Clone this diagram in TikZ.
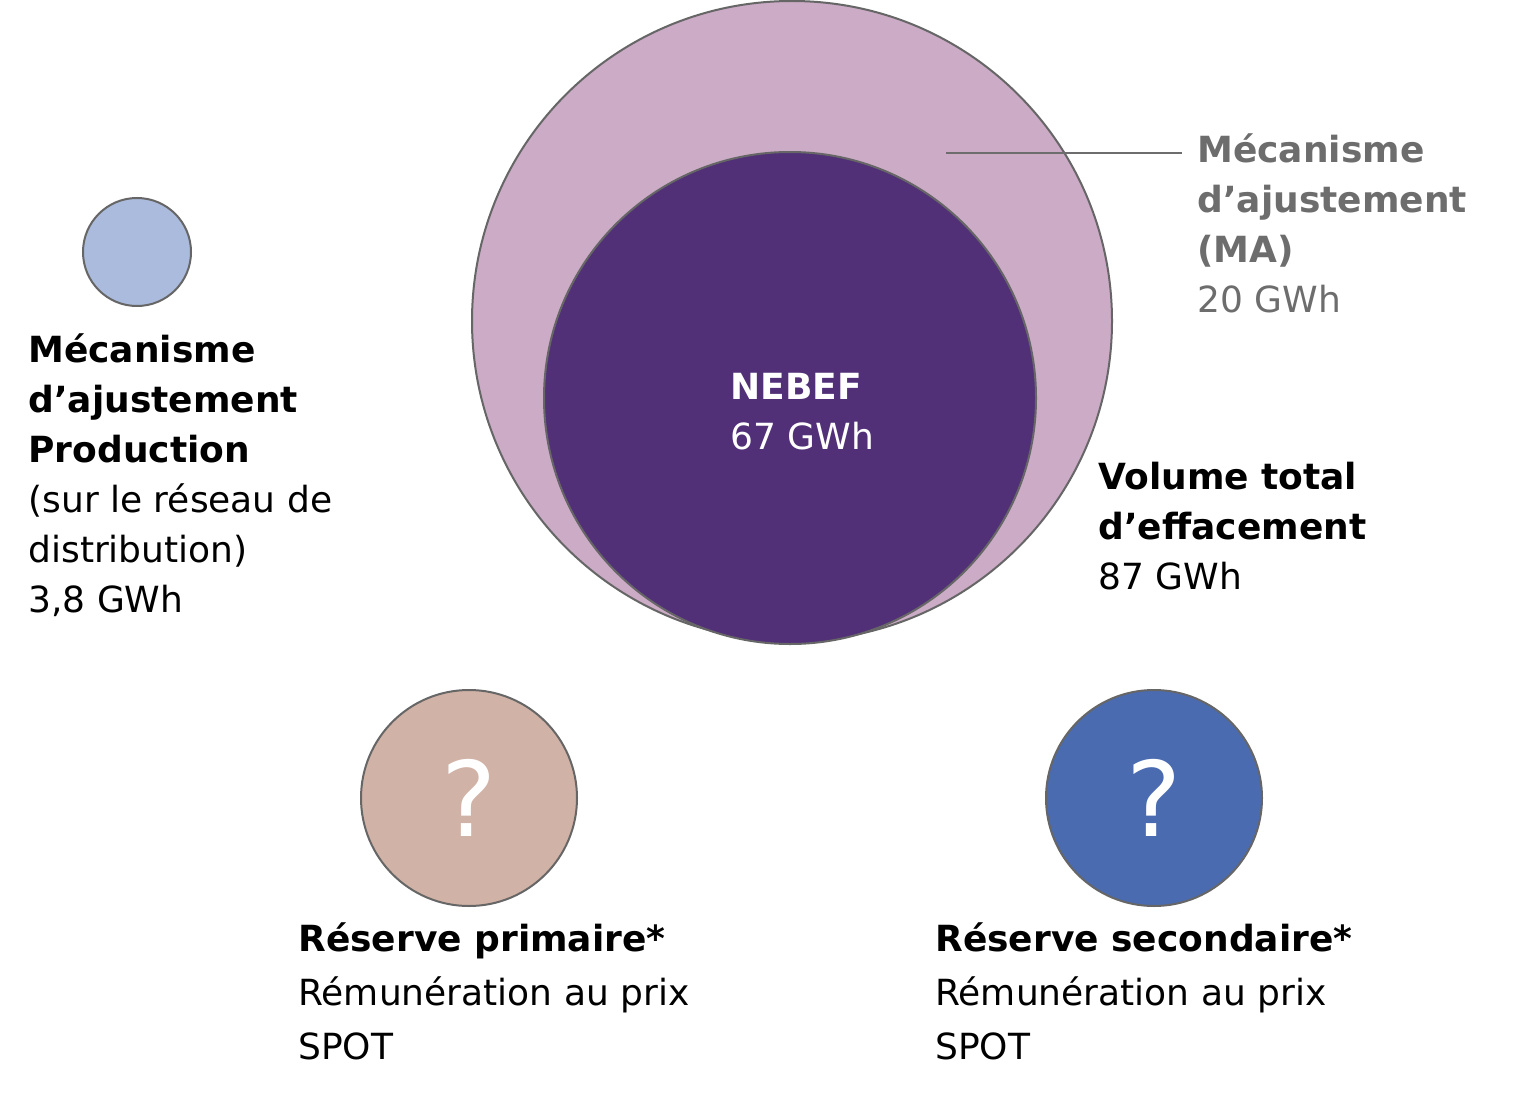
\documentclass[tikz,border=0pt]{standalone}
\usepackage{fontspec}
\setmainfont{DejaVu Sans}
\begin{document}
\begin{tikzpicture}[x=0.5pt,y=-0.5pt,
  circ/.style={draw=black!60,line width=1pt},
  lab/.style={anchor=north west,inner sep=0pt,align=left,font=\fontsize{18}{25}\selectfont},
  lab2/.style={anchor=north west,inner sep=0pt,align=left,font=\fontsize{18}{27}\selectfont}]
\definecolor{lpur}{HTML}{CBABC6}
\definecolor{dpur}{HTML}{513078}
\definecolor{lblue}{HTML}{ABBBDD}
\definecolor{tan}{HTML}{D1B2A6}
\definecolor{dblue}{HTML}{4A6BB0}
\definecolor{gtxt}{HTML}{6D6D6D}
\useasboundingbox (0,0) rectangle (1536,1102);
\fill[white] (0,0) rectangle (1536,1102);
\draw[circ,fill=lpur] (792,321) circle (320);
\draw[circ,fill=dpur] (790,398) circle (246);
\draw[circ,fill=lblue] (137,252) circle (54);
\node[circ,circle,fill=tan,minimum size=216pt/2,inner sep=0pt,text=white,font=\fontsize{52}{52}\selectfont] (tan) at (469,798) {?};
\node[circ,circle,fill=dblue,minimum size=216pt/2,inner sep=0pt,text=white,font=\fontsize{52}{52}\selectfont] (blu) at (1154,798) {?};
\coordinate (la) at (946,153);
\coordinate (lb) at (1182,153);
\draw[gtxt,line width=1pt] (la) -- (lb);
\node[lab,text=gtxt] (ma) at (1197,133) {\textbf{Mécanisme}\\\textbf{d’ajustement}\\\textbf{(MA)}\\20 GWh};
\node[lab,text=white] (nb) at (730,373) {\textbf{NEBEF}\\67 GWh};
\node[lab] (vt) at (1098,462) {\textbf{Volume total}\\\textbf{d’effacement}\\87 GWh};
\node[lab] (mp) at (28,333) {\textbf{Mécanisme}\\\textbf{d’ajustement}\\\textbf{Production}\\(sur le réseau de\\distribution)\\3,8 GWh};
\node[lab2] (rp) at (298,922) {\textbf{Réserve primaire*}\\Rémunération au prix\\SPOT};
\node[lab2] (rs) at (935,922) {\textbf{Réserve secondaire*}\\Rémunération au prix\\SPOT};
\end{tikzpicture}
\end{document}
